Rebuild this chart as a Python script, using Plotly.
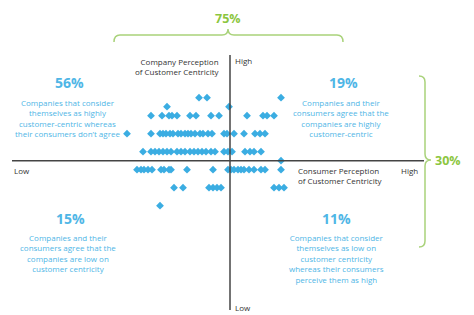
import plotly.graph_objects as go

# ---- data (x: consumer perception score, y: company perception level) ----
row_levels = [7, 6, 5, 3, 1, 0, -1, -3, -5]
row_x = [
    [-3.1, -2.3, 5.1],
    [-6.3, -0.1],
    [-7.9, -6.8, -6.1, -5.8, -5.3, -4.0, -3.4, -1.9, -1.1, 1.7, 3.3, 3.7, 4.4],
    [-10.3, -7.9, -7.0, -6.7, -6.4, -6.0, -5.7, -5.2, -4.9, -4.5, -4.2, -3.9, -3.5,
     -3.0, -2.7, -2.2, -1.8, -0.6, -0.3, 0.4, 1.4, 2.5, 3.0, 3.5],
    [-8.7, -7.9, -7.5, -7.1, -6.7, -6.3, -5.9, -5.3, -4.9, -4.5, -4.0, -3.6, -3.2,
     -2.8, -2.4, -1.9, -1.5, -0.6, -0.2, 0.2, 1.5, 2.0, 2.4, 3.1],
    [5.1],
    [-9.3, -8.9, -8.6, -8.2, -7.8, -6.9, -6.6, -6.1, -5.9, -4.3, -1.7, -0.2, 0.1, 0.4,
     0.8, 1.1, 1.4, 1.9, 2.4, 3.1, 3.5, 5.1],
    [-5.6, -4.7, -2.1, -1.7, -1.3, -0.9, 4.4, 4.9, 5.4],
    [-7.0],
]

quadrant_pct = ["56%", "19%", "15%", "11%"]
quadrant_text = [
    "Companies that consider<br>themselves as highly<br>customer-centric whereas<br>their consumers don’t agree",
    "Companies and their<br>consumers agree that the<br>companies are highly<br>customer-centric",
    "Companies and their<br>consumers agree that the<br>companies are low on<br>customer centricity",
    "Companies that consider<br>themselves as low on<br>customer centricity<br>whereas their consumers<br>perceive them as high",
]
top_pct = "75%"
right_pct = "30%"

xs, ys = [], []
for lvl, vals in zip(row_levels, row_x):
    for v in vals:
        xs.append(v)
        ys.append(lvl)

W, H = 474, 315
CX, CY = 230, 160.7  # pixel position of the origin
SX, SY = 10.0, 9.0   # pixels per data unit

BLUE = "#3badE2"
TBLUE = "#4fb6e6"
GREEN = "#8cc63f"
BRACE = "#a9d27a"
DARK = "#333333"
FONT = "Open Sans"


def px(x):
    return x / W


def py(y):
    return 1 - y / H


fig = go.Figure()
fig.add_trace(go.Scatter(
    x=xs, y=ys, mode="markers",
    marker=dict(symbol="diamond", size=6, color=BLUE, line=dict(width=0)),
    hoverinfo="skip",
))

shapes = []
# axes
shapes.append(dict(type="line", xref="paper", yref="paper",
                   x0=px(12), x1=px(424), y0=py(CY), y1=py(CY),
                   line=dict(color="#444444", width=1.5)))
shapes.append(dict(type="line", xref="paper", yref="paper",
                   x0=px(CX), x1=px(CX), y0=py(55), y1=py(310),
                   line=dict(color="#444444", width=1.5)))


def path(cmds):
    out = []
    for c in cmds:
        if isinstance(c, str):
            out.append(c)
        else:
            out.append(f"{px(c[0]):.5f},{py(c[1]):.5f}")
    return " ".join(out)


top = path(["M", (114, 42), "Q", (114, 35), (120, 35), "L", (222, 35), "Q", (228, 35), (228, 29),
            "Q", (228, 35), (234, 35), "L", (337, 35), "Q", (343, 35), (343, 42)])
right = path(["M", (419, 76), "Q", (425, 76), (425, 82), "L", (425, 154), "Q", (425, 160), (431, 160),
              "Q", (425, 160), (425, 166), "L", (425, 241), "Q", (425, 247), (419, 247)])
for p in (top, right):
    shapes.append(dict(type="path", xref="paper", yref="paper", path=p,
                       line=dict(color=BRACE, width=1.5)))

ann = []


def add(text, x, y, size, color, bold=False, xanchor="center", align="center"):
    ann.append(dict(text=f"<b>{text}</b>" if bold else text, xref="paper", yref="paper",
                    x=px(x), y=py(y), xanchor=xanchor, yanchor="middle", align=align,
                    showarrow=False, font=dict(family=FONT, size=size, color=color)))


add(top_pct, 228, 18, 12.5, GREEN, bold=True)
add(right_pct, 448, 160, 12.5, GREEN, bold=True)

pct_pos = [(69, 83), (343, 83), (70, 218), (336, 218)]
txt_pos = [(67, 118.2), (341, 118.2), (68, 252.7), (336, 258)]
for t, (x, y) in zip(quadrant_pct, pct_pos):
    add(t, x, y, 14, TBLUE, bold=True)
for t, (x, y) in zip(quadrant_text, txt_pos):
    add(t, x, y, 8, TBLUE)

add("Company Perception<br>of Customer Centricity", 222, 66.3, 8, DARK, xanchor="right", align="right")
add("High", 233, 60.7, 8, DARK, xanchor="left")
add("Low", 12, 170, 8, DARK, xanchor="left")
add("Consumer Perception<br>of Customer Centricity", 296, 175.3, 8, DARK, xanchor="left", align="left")
add("High", 399, 170, 8, DARK, xanchor="left")
add("Low", 232.5, 307, 8, DARK, xanchor="left")

fig.update_layout(
    width=W, height=H, margin=dict(l=0, r=0, t=0, b=0),
    paper_bgcolor="white", plot_bgcolor="white", showlegend=False,
    xaxis=dict(range=[-CX / SX, (W - CX) / SX], visible=False, fixedrange=True),
    yaxis=dict(range=[-(H - CY) / SY, CY / SY], visible=False, fixedrange=True),
    shapes=shapes, annotations=ann,
)

fig.write_html("out.html")
